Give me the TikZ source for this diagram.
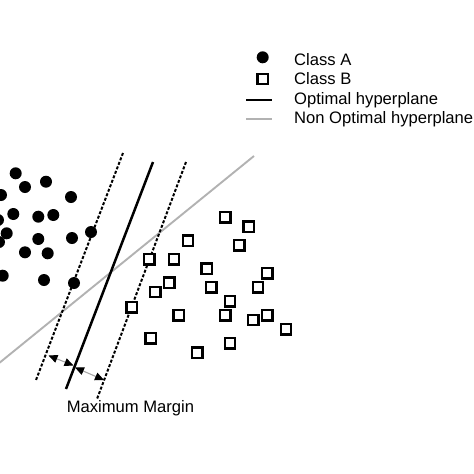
\documentclass[tikz,border=0pt]{standalone}
\usepackage{fontspec}
\setmainfont{Liberation Sans}
\usetikzlibrary{arrows.meta}
\tikzset{
  dotA/.style={circle,fill=black,inner sep=0pt,minimum size=12pt},
  sqB/.style={draw=black,line width=2.2pt,fill=white,inner sep=0pt,minimum size=10.5pt},
  optline/.style={line width=2.5pt,black},
  marginline/.style={line width=2pt,black,dash pattern=on 3pt off 1.8pt},
  nonopt/.style={line width=1.9pt,black!30},
  marginarrow/.style={line width=1.1pt,black!35,{Triangle[length=9pt,width=8pt,fill=black,color=black]}-{Triangle[length=9pt,width=8pt,fill=black,color=black]}},
  lbl/.style={font=\fontsize{16.6}{18}\selectfont,inner sep=0pt,anchor=base west}
}
\begin{document}
\begin{tikzpicture}[x=1pt,y=-1pt]
\useasboundingbox (0,0) rectangle (474,474);
\clip (0,0) rectangle (474,474);
% hyperplanes
\coordinate (g1) at (254,156); \coordinate (g2) at (-2,364);
\draw[nonopt] (g1) -- (g2);
\coordinate (o1) at (153,162); \coordinate (o2) at (66,389);
\draw[optline] (o1) -- (o2);
\coordinate (l1) at (123,153); \coordinate (l2) at (36,380);
\draw[marginline] (l1) -- (l2);
\coordinate (r1) at (186,162); \coordinate (r2) at (97,399);
\draw[marginline] (r1) -- (r2);
% class A
\foreach \x/\y [count=\i] in {15.7/173.3,25/187,46/181.7,1/195,71/197,13.3/214,38.3/216.7,53.3/215,-2/220,6.7/233.3,-1/242,38.3/239,72/238,91/232,25/252.3,47.7/253.3,2.7/275.7,44/280,74/283}
  \node[dotA] (a\i) at (\x,\y) {};
% class B
\foreach \x/\y [count=\i] in {225.3/217.3,248.7/226.7,188/240.7,239.3/245.3,149.3/259.3,174/259.3,206.7/268.7,267.3/273.3,169.3/282.7,155.3/292,211.3/287.3,258/287.3,230/301.3,131.7/307.3,178.7/315.3,225.3/315.3,253.3/320,267.3/315.3,286/329.3,150.7/338.3,230/343.3,197.3/352.7}
  \node[sqB] (b\i) at (\x,\y) {};
% margin arrows
\coordinate (m1) at (48.5,355.5); \coordinate (m2) at (73.5,365.5);
\coordinate (m3) at (75,367.5); \coordinate (m4) at (104,380);
\draw[marginarrow] (m1) -- (m2);
\draw[marginarrow] (m3) -- (m4);
\node[lbl,anchor=base] (mm) at (130.5,412.7) {Maximum Margin};
% legend
\node[dotA] (ldot) at (262.7,57.3) {};
\node[sqB] (lsq) at (262.7,79) {};
\coordinate (lo1) at (246,100); \coordinate (lo2) at (272,100);
\draw[optline] (lo1) -- (lo2);
\coordinate (ln1) at (246,119); \coordinate (ln2) at (272,119);
\draw[nonopt] (ln1) -- (ln2);
\node[lbl] (t1) at (294,65) {Class A};
\node[lbl] (t2) at (294,84.5) {Class B};
\node[lbl] (t3) at (294,104) {Optimal hyperplane};
\node[lbl] (t4) at (294,123.5) {Non Optimal hyperplane};
\end{tikzpicture}
\end{document}
